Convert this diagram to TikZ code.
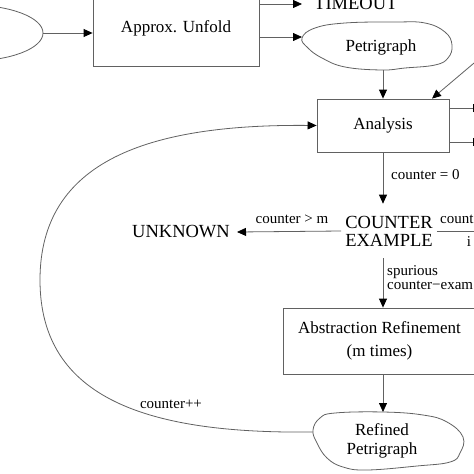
\documentclass[tikz,border=0pt]{standalone}
\usepackage{fontspec}
\setmainfont{Liberation Serif}
\usetikzlibrary{arrows.meta,shapes.geometric}
\begin{document}
\begin{tikzpicture}[x=1pt,y=-1pt,
  line/.style={draw=black!62, line width=0.8pt},
  arr/.style={line, -{Triangle[length=9pt,width=8pt,color=black]}},
  box/.style={draw=black!62, line width=0.8pt, rectangle, inner sep=0pt},
  mainf/.style={font=\fontsize{17}{23}\selectfont},
  bigf/.style={font=\fontsize{18.5}{18}\selectfont},
  smallf/.style={font=\fontsize{15}{14}\selectfont},
  blob/.style={draw=black!62, line width=0.8pt, smooth cycle, tension=0.7},
]
\useasboundingbox (0,0) rectangle (474,474);
\clip (0,0) rectangle (474,474);

% left ellipse
\node[ellipse, draw=black!62, line width=0.8pt, minimum width=146pt, minimum height=56pt] (src) at (-30,33) {};
% Approx. Unfold
\node[box, minimum width=166pt, minimum height=76pt, mainf] (app) at (176,28) {Approx. Unfold};
\draw[arr] (src.east) -- (src.east -| app.west);

% TIMEOUT
\node[bigf, anchor=base west, inner sep=0pt] (tmo) at (314,9.5) {TIMEOUT};
\coordinate (tmotip) at (302,4);
\draw[arr] (app.east |- tmotip) -- (tmotip);

% Petrigraph blob
\draw[blob] plot coordinates {(302,38) (315,28) (345,23) (395,22) (425,23) (445,32) (452,45) (448,58) (435,65) (405,68) (382,70) (345,67) (322,58) (308,48)};
\node[mainf] (pg) at (381,47) {Petrigraph};
\coordinate (pgtip) at (302,37);
\coordinate (pgbot) at (383,70);
\draw[arr] (app.east |- pgtip) -- (pgtip);

% Analysis
\node[box, minimum width=132pt, minimum height=53pt, mainf] (ana) at (383,125.5) {Analysis};
\draw[arr] (pgbot) -- (pgbot |- ana.north);
\coordinate (dg) at (480,58);
\draw[arr] (dg) -- ([xshift=49pt]ana.north);
\coordinate (r1) at (482,108);
\coordinate (r2) at (482,142);
\draw[arr] (ana.east |- r1) -- (r1);
\draw[arr] (ana.east |- r2) -- (r2);

% COUNTER EXAMPLE
\node[bigf, align=center, inner xsep=4pt, inner ysep=12pt] (cex) at (389,231) {COUNTER\\EXAMPLE};
\draw[arr] (ana.south) -- (ana.south |- cex.north);
\node[smallf, anchor=west, inner sep=0pt] (l0) at (391,175) {counter = 0};

% UNKNOWN
\node[bigf, inner xsep=7pt, inner ysep=0pt] (unk) at (181,232) {UNKNOWN};
\draw[arr] (cex.west) -- (unk.east);
\node[smallf, inner sep=0pt] (lm) at (292,219) {counter > m};

% right branch
\coordinate (ceright) at (480,231);
\draw[line] (cex.east) -- (ceright);
\node[smallf, anchor=west, inner sep=0pt] (lc) at (440,219) {count};
\node[smallf, inner sep=0pt] (li) at (469,242) {i};

% Abstraction Refinement
\node[box, minimum width=193pt, minimum height=66pt, mainf, align=center] (abs) at (379.5,341) {Abstraction Refinement\\(m times)};
\draw[arr] (ana.south |- cex.south) -- (ana.south |- abs.north);
\node[smallf, anchor=west, align=left, inner sep=0pt] (ls) at (387,278) {spurious\\counter−exam};

% Refined Petrigraph
\draw[blob] plot coordinates {(313,430) (320,418) (335,413) (383,412) (423,415) (447,422) (463,437) (460,453) (450,462) (417,466) (367,470) (343,467) (327,458) (317,443)};
\node[mainf, align=center, font=\fontsize{17}{19}\selectfont] (ref) at (382,441) {Refined\\Petrigraph};
\coordinate (reftop) at (383,412);
\coordinate (reftip) at (313,432);
\draw[arr] (ana.south |- abs.south) -- (reftop);

% loop back
\draw[arr] (reftip) .. controls (150,434) and (40,400) .. (40,280) .. controls (40,160) and (150,124) .. (ana.west);
\node[smallf, inner sep=0pt] (lpp) at (171,404) {counter++};
\end{tikzpicture}
\end{document}
